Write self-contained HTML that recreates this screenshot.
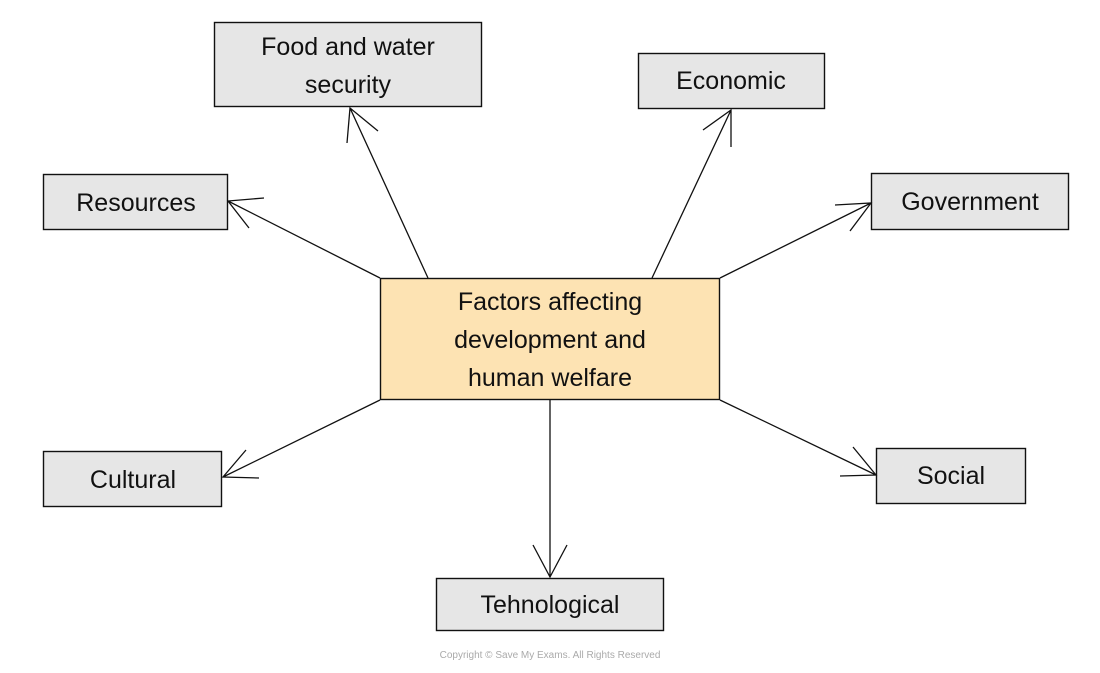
<!DOCTYPE html>
<html><head><meta charset="utf-8"><style>
html,body{margin:0;padding:0;background:#fff;}
svg text{font-family:"Liberation Sans",sans-serif;font-size:25px;fill:#111;text-anchor:middle;}
</style></head><body>
<svg width="1100" height="668" viewBox="0 0 1100 668" xmlns="http://www.w3.org/2000/svg">
<g stroke="#111" stroke-width="1.4" fill="#e6e6e6">
<rect x="214.5" y="22.5" width="267" height="84"/>
<rect x="638.5" y="53.5" width="186" height="55"/>
<rect x="43.5" y="174.5" width="184" height="55"/>
<rect x="871.5" y="173.5" width="197" height="56"/>
<rect x="43.5" y="451.5" width="178" height="55"/>
<rect x="876.5" y="448.5" width="149" height="55"/>
<rect x="436.5" y="578.5" width="227" height="52"/>
<rect x="380.5" y="278.5" width="339" height="121" fill="#fde3b3"/>
</g>
<g stroke="#111" stroke-width="1.3" fill="none">
<path d="M428 278 L350 108 M347 143 L350 108 L378 131"/>
<path d="M652 278 L731 110 M703 130 L731 110 L731 147"/>
<path d="M380 278 L228 201 M264 198 L228 201 L249 228"/>
<path d="M720 278 L871 203 M835 205 L871 203 L850 231"/>
<path d="M380 400 L223 477 M246 450 L223 477 L259 478"/>
<path d="M720 400 L876 475 M853 447 L876 475 L840 476"/>
<path d="M550 400 L550 577 M533 545 L550 577 L567 545"/>
</g>
<text x="348" y="55">Food and water</text>
<text x="348" y="93">security</text>
<text x="731" y="89">Economic</text>
<text x="136" y="211">Resources</text>
<text x="970" y="210">Government</text>
<text x="133" y="488">Cultural</text>
<text x="951" y="484">Social</text>
<text x="550" y="613">Tehnological</text>
<text x="550" y="310">Factors affecting</text>
<text x="550" y="348">development and</text>
<text x="550" y="386">human welfare</text>
<text x="550" y="658" style="font-size:10px;fill:#aaa">Copyright © Save My Exams. All Rights Reserved</text>
</svg>
</body></html>
